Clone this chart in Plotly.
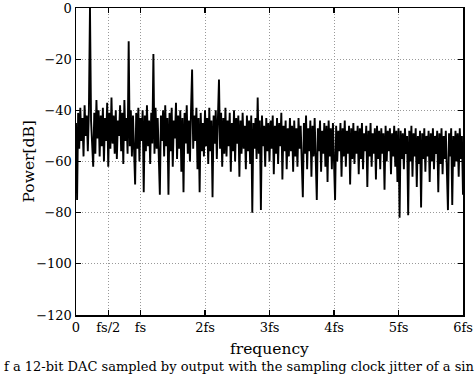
import numpy as np
import plotly.graph_objects as go

# Power spectrum samples (dB), 60 samples per fs, 0..6 fs
power_db = [
    -45, -75, -41, -55, -39, -52, -43, -58, -38, -50, -42, -56, -40, 0, -44, -53, -62, -41, -57, -36,
    -51, -40, -58, -42, -54, -39, -60, -43, -52, -37, -62, -41, -55, -35, -53, -42, -57, -40, -59, -44,
    -50, -38, -56, -41, -61, -36, -52, -43, -57, -13, -54, -40, -58, -42, -53, -69, -41, -55, -39, -60,
    -43, -52, -40, -72, -42, -56, -38, -54, -44, -61, -41, -53, -18, -57, -39, -55, -43, -60, -73, -42,
    -52, -40, -58, -38, -54, -43, -73, -41, -56, -39, -62, -44, -51, -37, -59, -42, -55, -40, -64, -43,
    -72, -41, -53, -38, -57, -44, -60, -40, -24, -55, -42, -52, -39, -63, -43, -72, -41, -56, -45, -58,
    -40, -54, -43, -61, -39, -56, -44, -74, -42, -53, -40, -59, -45, -28, -55, -41, -62, -43, -57, -39,
    -58, -44, -54, -41, -64, -45, -56, -40, -60, -43, -53, -42, -66, -44, -57, -41, -55, -46, -63, -42,
    -56, -44, -61, -42, -80, -45, -55, -43, -59, -35, -57, -44, -79, -42, -54, -46, -62, -43, -56, -45,
    -60, -44, -55, -42, -65, -46, -57, -43, -61, -45, -54, -41, -67, -46, -56, -44, -63, -47, -58, -43,
    -56, -46, -64, -44, -58, -47, -62, -43, -55, -46, -60, -74, -45, -57, -42, -63, -47, -56, -44, -66,
    -46, -58, -43, -61, -75, -47, -56, -44, -64, -48, -57, -45, -62, -46, -68, -44, -58, -47, -63, -45,
    -57, -75, -46, -60, -48, -56, -45, -66, -47, -58, -44, -62, -48, -57, -46, -69, -47, -59, -45, -61,
    -48, -57, -46, -65, -47, -59, -45, -63, -49, -56, -46, -70, -48, -58, -45, -62, -49, -57, -47, -67,
    -46, -59, -48, -63, -47, -57, -49, -71, -46, -60, -48, -56, -47, -65, -49, -58, -46, -62, -48, -68,
    -47, -82, -48, -59, -49, -63, -47, -57, -50, -81, -48, -60, -46, -66, -49, -58, -47, -70, -50, -61,
    -48, -78, -49, -59, -47, -64, -50, -58, -48, -68, -49, -60, -47, -63, -50, -57, -48, -72, -49, -61,
    -47, -65, -50, -59, -48, -63, -79, -49, -58, -47, -77, -50, -62, -48, -60, -49, -66, -47, -59, -50,
    -73,
]
samples_per_fs = 60
freq = np.arange(len(power_db)) / samples_per_fs

x_tick_vals = [0, 0.5, 1, 2, 3, 4, 5, 6]
x_tick_text = ["0", "fs/2", "fs", "2fs", "3fs", "4fs", "5fs", "6fs"]
y_tick_vals = [-120, -100, -80, -60, -40, -20, 0]

x_title = "frequency"
y_title = "Power[dB]"
caption = "f a 12-bit DAC sampled by output with the sampling clock jitter of a sin"

FONT = "DejaVu Serif"
PLOT_W, PLOT_H = 387, 307  # plot area in px (margins below)

fig = go.Figure()
fig.add_trace(go.Scatter(
    x=freq, y=power_db, mode="lines",
    line=dict(color="black", width=1.9),
    showlegend=False, hoverinfo="skip",
))

axis_common = dict(
    showline=True, linecolor="black", linewidth=1.5, mirror="ticks",
    ticks="inside", ticklen=5, tickcolor="black", tickwidth=1.2,
    showgrid=True, gridcolor="#999999", griddash="1px,2px", gridwidth=1,
    zeroline=False, automargin=False,
    tickfont=dict(family=FONT, size=13, color="black"),
)

fig.update_layout(
    width=474, height=376,
    margin=dict(l=76, r=11, t=8, b=61, autoexpand=False),
    paper_bgcolor="white", plot_bgcolor="white",
    font=dict(family=FONT, color="black"),
    xaxis=dict(range=[0, 6], tickvals=x_tick_vals, ticktext=x_tick_text, **axis_common),
    yaxis=dict(range=[-120, 0], tickvals=y_tick_vals, **axis_common),
    annotations=[
        dict(text=x_title, xref="paper", yref="paper", x=0.5, y=-34 / PLOT_H,
             xanchor="center", yanchor="middle", showarrow=False,
             font=dict(family=FONT, size=15.5, color="black")),
        dict(text=y_title, xref="paper", yref="paper", x=-48 / PLOT_W, y=0.5,
             xanchor="center", yanchor="middle", textangle=-90, showarrow=False,
             font=dict(family=FONT, size=15.5, color="black")),
        dict(text=caption, xref="paper", yref="paper",
             x=-74 / PLOT_W, y=-61 / PLOT_H, xanchor="left", yanchor="bottom",
             showarrow=False, font=dict(family=FONT, size=13, color="black")),
    ],
)

fig.write_html(
    "out.html",
    config={"displayModeBar": False, "staticPlot": True},
    post_script="document.body.style.margin='0';document.body.style.overflow='hidden';",
)
